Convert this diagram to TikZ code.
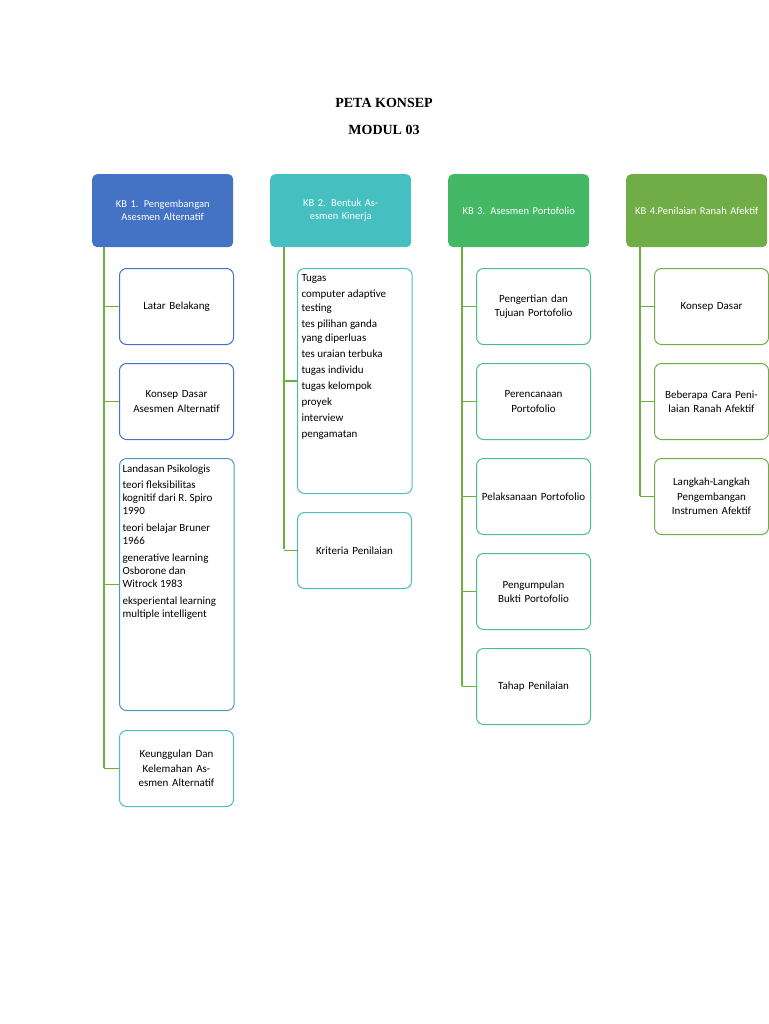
\documentclass[tikz,border=0pt]{standalone}
\usepackage{fontspec}
\setmainfont{Carlito}
\newfontfamily\titlefont{Liberation Serif}
\begin{document}
\begin{tikzpicture}[x=1pt,y=-1pt,
 hdr/.style={draw=none,rounded corners=5pt,minimum width=141pt,minimum height=73pt,text width=125pt,align=center,text=white,font=\fontsize{10.5}{13}\selectfont,anchor=north west},
 box/.style={draw,line width=1pt,rounded corners=7pt,minimum width=114pt,text width=104pt,align=center,fill=white,font=\fontsize{11}{14.5}\selectfont,anchor=north west},
 lbox/.style={box,align=left,text width=108pt},
 con/.style={draw=green!55!black!80!yellow!90,line width=1.1pt}]
\definecolor{c1}{HTML}{4472C4}\definecolor{c2}{HTML}{45BFBF}\definecolor{c3}{HTML}{45B865}\definecolor{c4}{HTML}{70AD47}
\definecolor{b2}{HTML}{4CC0BC}\definecolor{b3}{HTML}{4CC08A}\definecolor{lc}{HTML}{6BAF3F}
\tikzset{con/.style={draw=lc,line width=1.1pt}}
\useasboundingbox (0,0) rectangle (768,1024);
\node[font=\titlefont\bfseries\fontsize{14}{16}\selectfont] (t1) at (384,103) {PETA KONSEP};
\node[font=\titlefont\bfseries\fontsize{14}{16}\selectfont] (t2) at (384,130) {MODUL 03};
% headers
\node[hdr,fill=c1] (h1) at (92,174) {KB 1. Pengembangan Asesmen Alternatif};
\node[hdr,fill=c2] (h2) at (270,174) {KB 2. Bentuk Asesmen Kinerja};
\node[hdr,fill=c3] (h3) at (448,174) {KB 3. Asesmen Portofolio};
\node[hdr,fill=c4] (h4) at (626,174) {KB 4.Penilaian Ranah Afektif};
% column 1
\node[box,draw=c1,minimum height=76pt] (a1) at (119,268) {Latar Belakang};
\node[box,draw=c1,minimum height=76pt] (a2) at (119,363) {Konsep Dasar Asesmen Alternatif};
\node[lbox,draw=c1!50!b2,minimum height=252pt] (a3) at (119,458) {};
\node[anchor=north west,align=left,font=\fontsize{11}{15.6}\selectfont] at (119,461) {Landasan Psikologis\\[1pt]teori fleksibilitas\\[-2.5pt]kognitif dari R. Spiro\\[-2.5pt]1990\\[1pt]teori belajar Bruner\\[-2.5pt]1966\\[1pt]generative learning\\[-2.5pt]Osborone dan\\[-2.5pt]Witrock 1983\\[1pt]eksperiental learning\\[-2.5pt]multiple intelligent};
\node[box,draw=b2,minimum height=76pt] (a4) at (119,730) {Keunggulan Dan Kelemahan Asesmen Alternatif};
\coordinate (v1) at (104,247);
\draw[con] (v1) -- (104,768);
\foreach \n in {a1,a2,a3,a4}{\draw[con] (\n.west) -- (\n.west -| v1);}
% column 2
\node[lbox,draw=b2,minimum height=225pt] (b1) at (297,268) {};
\node[anchor=north west,align=left,font=\fontsize{11}{14}\selectfont] at (298,271) {Tugas\\[2pt]computer adaptive\\testing\\[2pt]tes pilihan ganda\\yang diperluas\\[2pt]tes uraian terbuka\\[2pt]tugas individu\\[2pt]tugas kelompok\\[2pt]proyek\\[2pt]interview\\[2pt]pengamatan};
\node[box,draw=b2,minimum height=76pt] (b2n) at (297,512) {Kriteria Penilaian};
\coordinate (v2) at (284,247);
\draw[con] (v2) -- (284,549);
\foreach \n in {b1,b2n}{\draw[con] (\n.west) -- (\n.west -| v2);}
% column 3
\node[box,draw=b3,minimum height=76pt] (c1n) at (476,268) {Pengertian dan Tujuan Portofolio};
\node[box,draw=b3,minimum height=76pt] (c2n) at (476,363) {Perencanaan Portofolio};
\node[box,draw=b3,minimum height=76pt] (c3n) at (476,458) {Pelaksanaan Portofolio};
\node[box,draw=b3,minimum height=76pt] (c4n) at (476,553) {Pengumpulan Bukti Portofolio};
\node[box,draw=b3,minimum height=76pt] (c5n) at (476,648) {Tahap Penilaian};
\coordinate (v3) at (462,247);
\draw[con] (v3) -- (462,686);
\foreach \n in {c1n,c2n,c3n,c4n,c5n}{\draw[con] (\n.west) -- (\n.west -| v3);}
% column 4
\node[box,draw=c4,minimum height=76pt] (d1) at (654,268) {Konsep Dasar};
\node[box,draw=c4,minimum height=76pt] (d2) at (654,363) {Beberapa Cara Penilaian Ranah Afektif};
\node[box,draw=c4,minimum height=76pt] (d3) at (654,458) {Langkah-Langkah Pengembangan Instrumen Afektif};
\coordinate (v4) at (640,247);
\draw[con] (v4) -- (640,496);
\foreach \n in {d1,d2,d3}{\draw[con] (\n.west) -- (\n.west -| v4);}
\end{tikzpicture}
\end{document}
